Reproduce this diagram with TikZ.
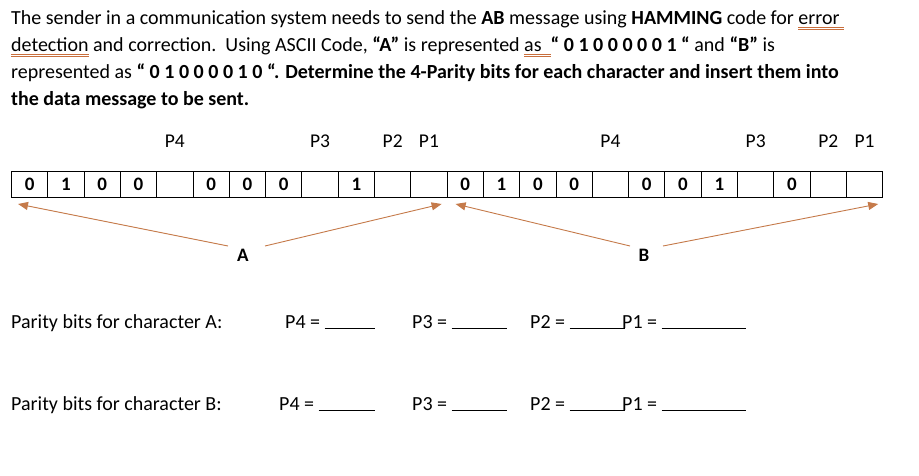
\documentclass[tikz,border=0pt]{standalone}
\usepackage{fontspec}
\setmainfont{Carlito}
\usetikzlibrary{arrows.meta}
\definecolor{ulc}{RGB}{200,110,60}
\definecolor{arrc}{RGB}{197,122,74}
\newsavebox\oubox
\newcommand\ouline[1]{\sbox\oubox{#1}\rlap{\textcolor{ulc}{\smash{\lower5pt\hbox{\vbox{\hrule width\wd\oubox height .7pt\kern1.3pt\hrule width\wd\oubox height .7pt}}}}}\usebox\oubox}
\begin{document}
\begin{tikzpicture}[x=1pt,y=-1pt,
  txt/.style={anchor=base west,inner sep=0pt,font=\fontsize{20}{24}\selectfont},
  lbl/.style={anchor=base,inner sep=0pt,font=\fontsize{19.5}{24}\selectfont},
  cell/.style={draw,line width=1pt,minimum width=36.3pt,minimum height=26pt,inner sep=0pt,anchor=north west,font=\fontsize{19}{22}\selectfont\bfseries},
  arr/.style={draw=arrc,line width=0.9pt,-{Triangle[length=10pt,width=8pt]}}]
\useasboundingbox (0,0) rectangle (919,476);
\node[txt] (h1) at (11,25) {The sender in a communication system needs to send the \textbf{AB} message using \textbf{HAMMING} code for \ouline{error\ }};
\node[txt] (h2) at (11,52) {\ouline{detection} and correction.\ \ Using ASCII Code, \textbf{“A”} is represented \ouline{as\ \ }\textbf{“ 0 1 0 0 0 0 0 1 “} and \textbf{“B”} is};
\node[txt] (h3) at (11,79) {represented as \textbf{“ 0 1 0 0 0 0 1 0 “. Determine the 4-Parity bits for each character and insert them into}};
\node[txt] (h4) at (11,106) {\textbf{the data message to be sent.}};
\foreach \v [count=\i] in {0,1,0,0,,0,0,0,,1,,,0,1,0,0,,0,0,1,,0,,} {
  \node[cell] (c\i) at ({11+(\i-1)*36.3},171) {\v};
}
\foreach \n/\t in {5/P4,9/P3,11/P2,12/P1,17/P4,21/P3,23/P2,24/P1} {
  \node[lbl] (l\n) at ([yshift=23pt]c\n.north) {\t};
}
\node[lbl,font=\fontsize{19}{22}\selectfont\bfseries] (A) at (243,261) {A};
\node[lbl,font=\fontsize{19}{22}\selectfont\bfseries] (B) at (644,261) {B};
\draw[arr] (228,246) -- ([shift={(7,6)}]c1.south west);
\draw[arr] (265,246) -- ([shift={(-6,6)}]c12.south east);
\draw[arr] (630,246) -- ([shift={(9,6)}]c13.south west);
\draw[arr] (663,246) -- ([shift={(-5,6)}]c24.south east);
\node[txt] (pa) at (11,328) {Parity bits for character A:};
\node[txt] (pb) at (11,410) {Parity bits for character B:};
\node[txt] (p4a) at (285,328) {P4 = \rule[-1pt]{50pt}{0.6pt}};
\node[txt] (p4b) at (279,410) {P4 = \rule[-1pt]{56pt}{0.6pt}};
\foreach \y/\s in {328/a,410/b} {
  \node[txt] (p3\s) at (412,\y) {P3 = \rule[-1pt]{55pt}{0.6pt}};
  \node[txt] (p2\s) at (530,\y) {P2 = \rule[-1pt]{55pt}{0.6pt}};
  \node[txt] (p1\s) at (622,\y) {P1 = \rule[-1pt]{84pt}{0.6pt}};
}
\end{tikzpicture}
\end{document}
